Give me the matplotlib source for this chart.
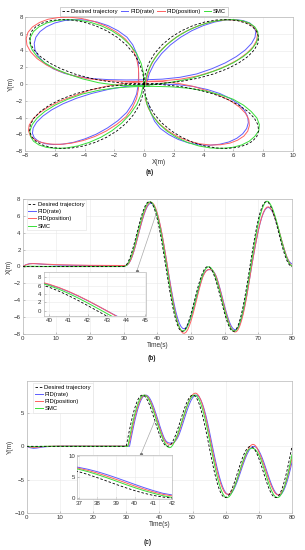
import numpy as np
import matplotlib
matplotlib.use('Agg')
import matplotlib.pyplot as plt

plt.rcParams['font.family'] = ['Liberation Sans', 'DejaVu Sans']

# ---------------- data ----------------
t_pre = [0, 1, 2, 3, 4, 5, 6, 8, 10, 12, 15, 20, 25]
t_main = np.arange(30, 80.01, 0.5)
time = np.concatenate([t_pre, t_main])

# desired trajectory
x_des = [0]*13 + [
    0, 0.08, 0.31, 0.69, 1.20, 1.82, 2.52, 3.28, 4.07, 4.85, 5.59, 6.26, 6.83, 7.28, 7.57, 7.69, 7.64, 7.40, 6.97, 6.36, 5.59, 4.67, 3.62, 2.47, 1.25, 0,
    -1.25, -2.47, -3.62, -4.67, -5.59, -6.36, -6.97, -7.40, -7.64, -7.69, -7.57, -7.28, -6.83, -6.26, -5.59, -4.85, -4.07, -3.28, -2.52, -1.82, -1.20, -0.69, -0.31, -0.08, 0,
    -0.08, -0.31, -0.69, -1.20, -1.82, -2.52, -3.28, -4.07, -4.85, -5.59, -6.26, -6.83, -7.28, -7.57, -7.69, -7.64, -7.40, -6.97, -6.36, -5.59, -4.67, -3.62, -2.47, -1.25, 0,
    1.25, 2.47, 3.62, 4.67, 5.59, 6.36, 6.97, 7.40, 7.64, 7.69, 7.57, 7.28, 6.83, 6.26, 5.59, 4.85, 4.07, 3.28, 2.52, 1.82, 1.20, 0.69, 0.31, 0.08, 0]
y_des = [0]*13 + [
    0, 1.25, 2.47, 3.62, 4.67, 5.59, 6.36, 6.97, 7.40, 7.64, 7.69, 7.57, 7.28, 6.83, 6.26, 5.59, 4.85, 4.07, 3.28, 2.52, 1.82, 1.20, 0.69, 0.31, 0.08, 0,
    0.08, 0.31, 0.69, 1.20, 1.82, 2.52, 3.28, 4.07, 4.85, 5.59, 6.26, 6.83, 7.28, 7.57, 7.69, 7.64, 7.40, 6.97, 6.36, 5.59, 4.67, 3.62, 2.47, 1.25, 0,
    -1.25, -2.47, -3.62, -4.67, -5.59, -6.36, -6.97, -7.40, -7.64, -7.69, -7.57, -7.28, -6.83, -6.26, -5.59, -4.85, -4.07, -3.28, -2.52, -1.82, -1.20, -0.69, -0.31, -0.08, 0,
    -0.08, -0.31, -0.69, -1.20, -1.82, -2.52, -3.28, -4.07, -4.85, -5.59, -6.26, -6.83, -7.28, -7.57, -7.69, -7.64, -7.40, -6.97, -6.36, -5.59, -4.67, -3.62, -2.47, -1.25, 0]

# PID(rate)
x_rate = [0, 0.22, 0.33, 0.35, 0.33, 0.30, 0.27, 0.22, 0.18, 0.16, 0.14, 0.12, 0.11] + [
    0.10, 0.10, 0.16, 0.35, 0.69, 1.17, 1.77, 2.46, 3.20, 3.97, 4.73, 5.45, 6.10, 6.66, 7.10, 7.38, 7.50, 7.45, 7.22, 6.80, 6.20, 5.45, 4.55, 3.53, 2.41, 1.22,
    0, -1.20, -2.37, -3.48, -4.48, -5.37, -6.11, -6.69, -7.10, -7.33, -7.38, -7.27, -6.99, -6.56, -6.01, -5.37, -4.66, -3.91, -3.15, -2.42, -1.75, -1.15, -0.76, -0.50, -0.39,
    -0.37, -0.39, -0.50, -0.77, -1.17, -1.77, -2.46, -3.20, -3.97, -4.73, -5.45, -6.10, -6.66, -7.10, -7.38, -7.50, -7.45, -7.22, -6.80, -6.20, -5.45, -4.55, -3.53, -2.41, -1.22,
    0, 1.14, 2.25, 3.29, 4.25, 5.09, 5.79, 6.34, 6.73, 6.95, 7.00, 6.89, 6.62, 6.22, 5.70, 5.09, 4.41, 3.70, 2.98, 2.29, 1.66, 1.09, 0.70, 0.45, 0.30]
y_rate = [0, -0.20, -0.30, -0.26, -0.17, -0.10, -0.05, 0.00, 0.03, 0.04, 0.04, 0.03, 0.03] + [
    0.03, 0.02, 0, 1.25, 2.47, 3.62, 4.67, 5.59, 6.36, 6.97, 7.40, 7.64, 7.69, 7.57, 7.28, 6.83, 6.26, 5.59, 4.85, 4.07, 3.28, 2.52, 1.82, 1.20, 0.80, 0.58,
    0.50, 0.48, 0.52, 0.64, 0.90, 1.28, 1.82, 2.52, 3.28, 4.07, 4.85, 5.59, 6.26, 6.83, 7.28, 7.57, 7.69, 7.64, 7.40, 6.97, 6.36, 5.59, 4.67, 3.62, 2.47,
    1.25, 0, -1.18, -2.32, -3.40, -4.39, -5.25, -5.98, -6.55, -6.96, -7.18, -7.23, -7.12, -6.84, -6.42, -5.88, -5.25, -4.56, -3.83, -3.08, -2.37, -1.71, -1.13, -0.65, -0.29,
    -0.08, 0, -0.08, -0.29, -0.66, -1.14, -1.73, -2.39, -3.12, -3.87, -4.61, -5.31, -5.95, -6.49, -6.92, -7.19, -7.31, -7.26, -7.03, -6.62, -6.04, -5.31, -4.44, -3.44, -2.35]

# PID(position)
x_pos = [0, 0.20, 0.31, 0.34, 0.33, 0.31, 0.29, 0.26, 0.22, 0.20, 0.17, 0.14, 0.13] + [
    0.12, 0.12, 0.17, 0.36, 0.70, 1.19, 1.80, 2.49, 3.25, 4.03, 4.80, 5.53, 6.20, 6.76, 7.21, 7.49, 7.61, 7.56, 7.33, 6.90, 6.30, 5.53, 4.62, 3.58, 2.45, 1.24,
    0, -1.29, -2.54, -3.73, -4.81, -5.76, -6.55, -7.18, -7.62, -7.87, -7.92, -7.80, -7.50, -7.03, -6.45, -5.76, -5.00, -4.19, -3.38, -2.60, -1.87, -1.24, -0.81, -0.52, -0.38,
    -0.36, -0.38, -0.51, -0.80, -1.21, -1.84, -2.55, -3.31, -4.11, -4.90, -5.65, -6.32, -6.90, -7.35, -7.65, -7.77, -7.72, -7.47, -7.04, -6.42, -5.65, -4.72, -3.66, -2.49, -1.26,
    0, 1.15, 2.27, 3.33, 4.30, 5.14, 5.85, 6.41, 6.81, 7.03, 7.07, 6.96, 6.70, 6.28, 5.76, 5.14, 4.46, 3.74, 3.02, 2.32, 1.67, 1.10, 0.63, 0.29, 0.07]
y_pos = [0, -0.10, -0.16, -0.13, -0.08, -0.04, -0.01, 0.02, 0.04, 0.04, 0.04, 0.04, 0.04] + [
    0.04, 0.03, 0.63, 1.86, 3.05, 4.15, 5.13, 5.98, 6.67, 7.19, 7.52, 7.67, 7.63, 7.43, 7.06, 6.55, 5.93, 5.22, 4.46, 3.68, 2.90, 2.17, 1.51, 0.95, 0.58, 0.38,
    0.30, 0.30, 0.40, 0.62, 1.02, 1.57, 2.26, 3.02, 3.83, 4.64, 5.43, 6.17, 6.81, 7.34, 7.73, 7.94, 7.98, 7.82, 7.48, 6.94, 6.22, 5.34, 4.32, 3.17, 1.93,
    0.66, -0.59, -1.75, -2.87, -3.90, -4.82, -5.62, -6.27, -6.76, -7.07, -7.21, -7.17, -6.98, -6.64, -6.16, -5.57, -4.91, -4.19, -3.46, -2.73, -2.04, -1.42, -0.75, -0.25, 0.10,
    0.28, 0.28, 0.08, -0.30, -0.85, -1.43, -2.06, -2.76, -3.50, -4.24, -4.96, -5.63, -6.22, -6.71, -7.06, -7.25, -7.29, -7.14, -6.83, -6.34, -5.68, -4.87, -3.94, -2.90, -1.77]

# SMC
x_smc = [0, 0.02, 0.03, 0.03, 0.02, 0.02, 0.01, 0.01, 0.01, 0, 0, 0, 0] + [
    0, 0.04, 0.20, 0.50, 0.95, 1.51, 2.17, 2.90, 3.68, 4.46, 5.22, 5.93, 6.55, 7.06, 7.43, 7.63, 7.67, 7.52, 7.19, 6.67, 5.98, 5.13, 4.15, 3.05, 1.86, 0.63,
    -0.63, -1.86, -3.05, -4.15, -5.13, -5.98, -6.67, -7.19, -7.52, -7.67, -7.63, -7.43, -7.06, -6.55, -5.93, -5.22, -4.46, -3.68, -2.90, -2.17, -1.51, -0.95, -0.50, -0.20, -0.04,
    -0.04, -0.20, -0.50, -0.95, -1.51, -2.17, -2.90, -3.68, -4.46, -5.22, -5.93, -6.55, -7.06, -7.43, -7.63, -7.67, -7.52, -7.19, -6.67, -5.98, -5.13, -4.15, -3.05, -1.86, -0.63,
    0.63, 1.86, 3.05, 4.15, 5.13, 5.98, 6.67, 7.19, 7.58, 7.74, 7.70, 7.43, 7.06, 6.55, 5.93, 5.22, 4.46, 3.68, 2.90, 2.17, 1.51, 0.95, 0.50, 0.20, 0.04]
y_smc = [0, -0.04, -0.06, -0.04, -0.02, -0.01, 0, 0, 0, 0, 0, 0, 0] + [
    0, 0, 1.25, 2.47, 3.62, 4.67, 5.59, 6.36, 6.97, 7.40, 7.64, 7.69, 7.57, 7.28, 6.83, 6.26, 5.59, 4.85, 4.07, 3.28, 2.52, 1.82, 1.20, 0.62, 0.22, -0.08,
    -0.20, -0.14, 0.15, 0.62, 1.20, 1.82, 2.52, 3.28, 4.07, 4.85, 5.59, 6.26, 6.83, 7.28, 7.57, 7.69, 7.64, 7.40, 6.97, 6.36, 5.59, 4.67, 3.62, 2.47, 1.25,
    0, -1.25, -2.47, -3.62, -4.67, -5.59, -6.36, -6.97, -7.40, -7.64, -7.69, -7.57, -7.28, -6.83, -6.26, -5.59, -4.85, -4.07, -3.28, -2.52, -1.82, -1.20, -0.75, -0.45, -0.32,
    -0.28, -0.34, -0.52, -0.85, -1.30, -1.82, -2.52, -3.28, -4.07, -4.85, -5.59, -6.26, -6.83, -7.28, -7.57, -7.69, -7.64, -7.40, -6.97, -6.36, -5.59, -4.67, -3.62, -2.47, -1.25]

labels = ['Desired trajectory', 'PID(rate)', 'PID(position)', 'SMC']
xticks_a = [-8, -6, -4, -2, 0, 2, 4, 6, 8, 10]
yticks_a = [-8, -6, -4, -2, 0, 2, 4, 6, 8]
tticks = [0, 10, 20, 30, 40, 50, 60, 70, 80]

# ---------------- styling ----------------
C_DES = 'black'
C_RATE = '#5c5cff'
C_POS = '#ff6060'
C_SMC = '#38e038'
LW = 0.7
FS = 4.4
W, H = 305, 550

fig = plt.figure(figsize=(W/100, H/100), dpi=100)


def px_axes(l, t, r, b):
    return fig.add_axes([l/W, 1-b/H, (r-l)/W, (b-t)/H])


def style(ax, fs=FS):
    for s in ax.spines.values():
        s.set_color('#b8b8b8')
        s.set_linewidth(0.5)
    ax.tick_params(direction='in', length=1.6, width=0.4, color='#999999',
                   labelsize=fs, labelcolor='#333333', pad=1.5)
    ax.grid(True, color='#e8e8e8', lw=0.4)
    ax.set_axisbelow(True)


def draw(ax, xs, ys):
    h1, = ax.plot(xs[0], ys[0], color=C_DES, lw=0.6, ls=(0, (3, 2.2)), zorder=6)
    h2, = ax.plot(xs[1], ys[1], color=C_RATE, lw=LW, zorder=3)
    h3, = ax.plot(xs[2], ys[2], color=C_POS, lw=LW, zorder=4)
    h4, = ax.plot(xs[3], ys[3], color=C_SMC, lw=LW, zorder=5)
    return [h1, h2, h3, h4]


# ---- (a) X-Y ----
ax_a = px_axes(25, 17, 293, 151)
style(ax_a)
hs = draw(ax_a, [x_des, x_rate, x_pos, x_smc], [y_des, y_rate, y_pos, y_smc])
ax_a.set_xlim(-8, 10)
ax_a.set_ylim(-8, 8)
ax_a.set_xticks(xticks_a)
ax_a.set_yticks(yticks_a)
ax_a.set_xlabel('X(m)', fontsize=4.7, color='#333333', labelpad=1.0)
ax_a.set_ylabel('Y(m)', fontsize=4.7, color='#333333', labelpad=0.5)
leg = ax_a.legend(hs, labels, loc='center', bbox_to_anchor=(144/W, 1-11.3/H),
                  bbox_transform=fig.transFigure, ncol=4, fontsize=4.2,
                  handlelength=1.3, handletextpad=0.3, columnspacing=0.5,
                  borderpad=0.3, fancybox=False, framealpha=1)
leg.get_frame().set_edgecolor('#bdbdbd')
leg.get_frame().set_linewidth(0.5)
fig.text(150/W, 1-172/H, '(a)', ha='center', va='center', fontsize=4.7, fontweight='bold', color='#222222')

# ---- (b) X vs time ----
ax_b = px_axes(22.7, 199, 292, 334)
style(ax_b)
hs = draw(ax_b, [time]*4, [x_des, x_rate, x_pos, x_smc])
ax_b.set_xlim(0, 80)
ax_b.set_ylim(-8, 8)
ax_b.set_xticks(tticks)
ax_b.set_yticks(yticks_a)
ax_b.set_xlabel('Time(s)', fontsize=4.7, color='#333333', labelpad=1.0)
ax_b.set_ylabel('X(m)', fontsize=4.7, color='#333333', labelpad=0.5)
leg = ax_b.legend(hs, labels, loc='upper left', bbox_to_anchor=(0.015, 0.99),
                  fontsize=4.2, handlelength=1.3, handletextpad=0.3,
                  labelspacing=0.35, borderpad=0.3, borderaxespad=0,
                  fancybox=False, framealpha=1)
leg.get_frame().set_edgecolor('#e0e0e0')
leg.get_frame().set_linewidth(0.4)
ax_b.plot([39.6, 33.9], [6.2, -0.55], color='#aaaaaa', lw=0.5, zorder=7)
ax_b.plot([33.9], [-0.55], marker='o', ms=1.3, color='#777777', zorder=7)

ins_b = px_axes(43.5, 272, 145.5, 316)
style(ins_b)
draw(ins_b, [time]*4, [x_des, x_rate, x_pos, x_smc])
ins_b.set_xlim(39.7, 45)
ins_b.set_ylim(-1.2, 9.2)
ins_b.set_xticks([40, 41, 42, 43, 44, 45])
ins_b.set_yticks([0, 2, 4, 6, 8])
fig.text(152/W, 1-358/H, '(b)', ha='center', va='center', fontsize=4.7, fontweight='bold', color='#222222')

# ---- (c) Y vs time ----
ax_c = px_axes(26.7, 381, 292, 513)
style(ax_c)
hs = draw(ax_c, [time]*4, [y_des, y_rate, y_pos, y_smc])
ax_c.set_xlim(0, 80)
ax_c.set_ylim(-10, 9.8)
ax_c.set_xticks(tticks)
ax_c.set_yticks([-10, -5, 0, 5])
ax_c.set_xlabel('Time(s)', fontsize=4.7, color='#333333', labelpad=1.0)
ax_c.set_ylabel('Y(m)', fontsize=4.7, color='#333333', labelpad=0.5)
leg = ax_c.legend(hs, labels, loc='upper left', bbox_to_anchor=(0.025, 0.985),
                  fontsize=4.2, handlelength=1.3, handletextpad=0.3,
                  labelspacing=0.35, borderpad=0.3, borderaxespad=0,
                  fancybox=False, framealpha=1)
leg.get_frame().set_edgecolor('#e0e0e0')
leg.get_frame().set_linewidth(0.4)
ax_c.plot([38.7, 34.5], [3.9, -1.1], color='#aaaaaa', lw=0.5, zorder=7)
ax_c.plot([34.5], [-1.1], marker='o', ms=1.3, color='#777777', zorder=7)

ins_c = px_axes(77, 455, 172, 499.2)
style(ins_c)
draw(ins_c, [time]*4, [y_des, y_rate, y_pos, y_smc])
ins_c.set_xlim(36.9, 42)
ins_c.set_ylim(-0.2, 10.2)
ins_c.set_xticks([37, 38, 39, 40, 41, 42])
ins_c.set_yticks([0, 5, 10])
fig.text(148/W, 1-542/H, '(c)', ha='center', va='center', fontsize=4.7, fontweight='bold', color='#222222')

fig.savefig('out.png', dpi=100, facecolor='white')
